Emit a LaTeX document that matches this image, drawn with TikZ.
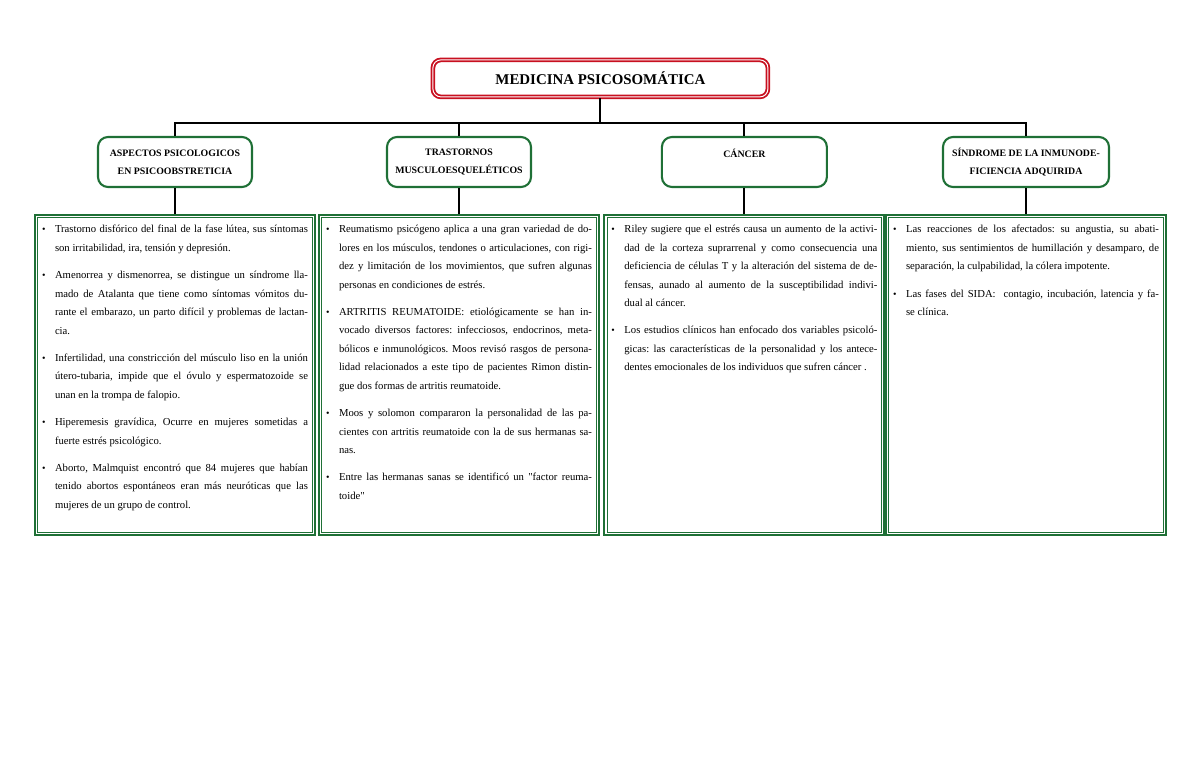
\documentclass[tikz,border=0pt]{standalone}
\usepackage{fontspec}
\setmainfont{Liberation Serif}
\usepackage{enumitem}
\usetikzlibrary{positioning}

\definecolor{mapgreen}{RGB}{31,112,54}
\definecolor{mapred}{RGB}{200,16,32}

\setlist[itemize]{label={\fontsize{7}{7}\selectfont\textbullet}, leftmargin=3.25mm,
  labelsep=2.3mm, labelwidth=0.95mm, align=left, itemsep=2.25mm, parsep=0pt,
  topsep=0pt, partopsep=0pt}

% text of one list box, kept at the top of the box
\newcommand{\boxlist}[1]{\noindent\begin{minipage}[t][74.8mm][t]{\linewidth}%
  \fontsize{7.6}{13.1}\selectfont\frenchspacing
  \spaceskip=0.25em plus 0.2em minus 0.11em
  \hyphenpenalty=10000\tolerance=10000\hbadness=10000
  \begin{itemize}#1\end{itemize}\end{minipage}}

\begin{document}
\begin{tikzpicture}[x=1mm, y=-1mm,
    topbox/.style = {draw=mapred, double=white, double distance=0.7pt, line width=1.3pt,
      rounded corners=2mm, minimum width=83.75mm, minimum height=9.25mm,
      font=\fontsize{10.6}{12}\selectfont\bfseries},
    headbox/.style = {draw=mapgreen, line width=1.5pt, rounded corners=2.5mm,
      minimum height=12.5mm, align=center, font=\fontsize{7}{12.8}\selectfont\bfseries,
      execute at begin node={\rule{0pt}{13.5pt}}},
    listbox/.style = {draw=mapgreen, line width=1.4pt, text width=66.5mm,
      inner xsep=1.75mm, inner ysep=2.6mm},
    link/.style = {draw, line width=1.3pt},
    node distance = 6.5mm,
  ]
  \useasboundingbox (0,0) rectangle (300,195.5);

  \node[topbox] (med) at (150.1,19.6) {MEDICINA PSICOSOMÁTICA};

  \node[headbox, minimum width=38.5mm] (asp) at (43.75,40.5) {ASPECTOS PSICOLOGICOS\\EN PSICOOBSTRETICIA};
  \node[headbox, minimum width=36mm] (tra) at (114.75,40.5) {TRASTORNOS\\MUSCULOESQUELÉTICOS};
  \node[headbox, minimum width=41.25mm] (can) at (186.1,40.5) {CÁNCER\\\mbox{}};
  \node[headbox, minimum width=41.5mm] (sid) at (256.5,40.5) {SÍNDROME DE LA INMUNODE-\\FICIENCIA ADQUIRIDA};

  \node[listbox, below=of asp] (asp-l) {\boxlist{
    \item Trastorno disfórico del final de la fase lútea, sus síntomas\linebreak son irritabilidad, ira, tensión y depresión.
    \item Amenorrea y dismenorrea, se distingue un síndrome lla-\linebreak mado de Atalanta que tiene como síntomas vómitos du-\linebreak rante el embarazo, un parto difícil y problemas de lactan-\linebreak cia.
    \item Infertilidad, una constricción del músculo liso en la unión\linebreak útero-tubaria, impide que el óvulo y espermatozoide se\linebreak unan en la trompa de falopio.
    \item Hiperemesis gravídica, Ocurre en mujeres sometidas a\linebreak fuerte estrés psicológico.
    \item Aborto, Malmquist encontró que 84 mujeres que habían\linebreak tenido abortos espontáneos eran más neuróticas que las\linebreak mujeres de un grupo de control.}};
  \node[listbox, below=of tra] (tra-l) {\boxlist{
    \item Reumatismo psicógeno aplica a una gran variedad de do-\linebreak lores en los músculos, tendones o articulaciones, con rigi-\linebreak dez y limitación de los movimientos, que sufren algunas\linebreak personas en condiciones de estrés.
    \item ARTRITIS REUMATOIDE: etiológicamente se han in-\linebreak vocado diversos factores: infecciosos, endocrinos, meta-\linebreak bólicos e inmunológicos. Moos revisó rasgos de persona-\linebreak lidad relacionados a este tipo de pacientes Rimon distin-\linebreak gue dos formas de artritis reumatoide.
    \item Moos y solomon compararon la personalidad de las pa-\linebreak cientes con artritis reumatoide con la de sus hermanas sa-\linebreak nas.
    \item Entre las hermanas sanas se identificó un \textquotedbl factor reuma-\linebreak toide\textquotedbl}};
  \node[listbox, below=of can] (can-l) {\boxlist{
    \item Riley sugiere que el estrés causa un aumento de la activi-\linebreak dad de la corteza suprarrenal y como consecuencia una\linebreak deficiencia de células T y la alteración del sistema de de-\linebreak fensas, aunado al aumento de la susceptibilidad indivi-\linebreak dual al cáncer.
    \item Los estudios clínicos han enfocado dos variables psicoló-\linebreak gicas: las características de la personalidad y los antece-\linebreak dentes emocionales de los individuos que sufren cáncer .}};
  \node[listbox, below=of sid] (sid-l) {\boxlist{
    \item Las reacciones de los afectados: su angustia, su abati-\linebreak miento, sus sentimientos de humillación y desamparo, de\linebreak separación, la culpabilidad, la cólera impotente.
    \item Las fases del SIDA:~ contagio, incubación, latencia y fa-\linebreak se clínica.}};

  % tree lines
  \coordinate (jn) at ([yshift=-6.25mm]med.south);
  \draw[link] (med.south) -- (jn);
  \draw[link] (asp.north) |- (jn) -| (sid.north);
  \draw[link] (tra.north) -- (tra.north |- jn);
  \draw[link] (can.north) -- (can.north |- jn);
  \foreach \n in {asp,tra,can,sid}
    \draw[link] (\n.south) -- (\n.south |- \n-l.north);

  % thin inner frame of the list boxes
  \foreach \n in {asp,tra,can,sid}
    \draw[mapgreen, line width=0.6pt] ([shift={(0.9mm,-0.9mm)}]\n-l.north west)
      rectangle ([shift={(-0.9mm,0.9mm)}]\n-l.south east);
\end{tikzpicture}
\end{document}
